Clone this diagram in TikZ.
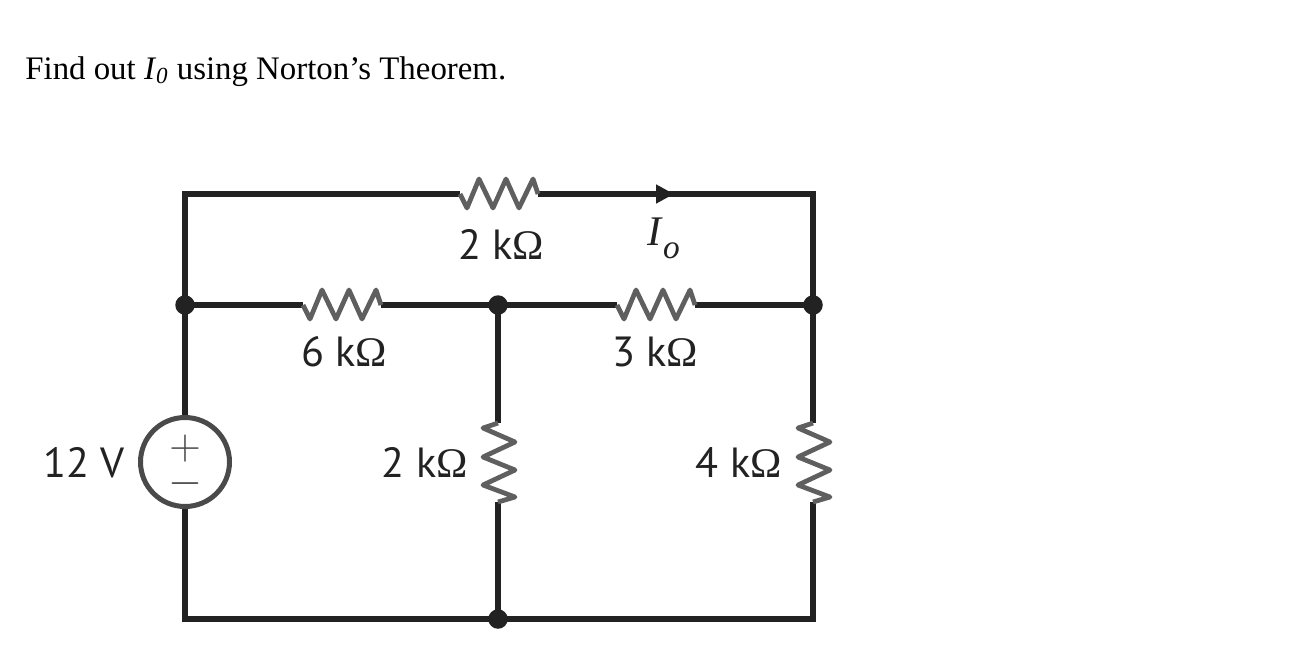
\documentclass[tikz,border=0pt]{standalone}
\usepackage{fontspec}
\setmainfont{Liberation Serif}
\newfontfamily\labelfont{PT Sans}
\usetikzlibrary{arrows.meta}

\definecolor{wirecol}{HTML}{222222}
\definecolor{rescol}{HTML}{5F5F5F}
\definecolor{srccol}{HTML}{4A4A4A}

\tikzset{
	wire/.style={line width=0.115cm,color=wirecol},
	res/.style={line width=0.095cm,color=rescol,line join=round},
	junction/.style={circle,fill=wirecol,inner sep=0pt,minimum size=0.39cm},
	source/.style={circle,draw=srccol,line width=0.1cm,inner sep=0pt,minimum size=1.78cm},
	value/.style={font=\labelfont\fontsize{24}{24}\selectfont,text=wirecol,inner sep=0pt},
	polarity/.style={font=\fontsize{25}{25}\selectfont,text=srccol,inner sep=0pt,anchor=base}
}

\newcommand{\ohm}{{\rmfamily Ω}}

% resistor zigzags, from their first end to their second
\newcommand{\hzig}[2]{\draw[res] (#1) --++(7,14) --++(12,-29) --++(14,29) --++(13,-29) --++(13,29) --++(14,-29) -- (#2);}
\newcommand{\vzig}[2]{\draw[res] (#1) --++(-15,5) --++(32,14) --++(-32,15) --++(32,13) --++(-32,15) --++(32,12) -- (#2);}

\begin{document}
\begin{tikzpicture}[x=0.02cm,y=-0.02cm]

\useasboundingbox[fill=white] (0,0) rectangle (1315,660);

\node[anchor=base west,inner sep=0pt,font=\fontsize{18.7}{20}\selectfont] (title) at (25,79)
	{Find out \textit{I}\textsubscript{\textit{0}} using Norton’s Theorem.};

\coordinate (tl) at (185,194);
\coordinate (tr) at (813,194);
\coordinate (bl) at (185,619);
\coordinate (br) at (813,619);
\coordinate (arrowtip) at (674,194);

\node[junction] (left) at (185,305) {};
\node[junction] (mid) at (498,305) {};
\node[junction] (right) at (813,305) {};
\node[junction] (bottom) at (498,619) {};
\node[source] (src) at (185,462) {};

\coordinate (rtopa) at (460,194);
\coordinate (rtopb) at (538,194);
\coordinate (rsixa) at (303,305);
\coordinate (rsixb) at (381,305);
\coordinate (rthreea) at (617,305);
\coordinate (rthreeb) at (695,305);
\coordinate (rmida) at (498,423);
\coordinate (rmidb) at (498,502);
\coordinate (rfoura) at (813,423);
\coordinate (rfourb) at (813,502);

\draw[wire] (left.center)--(tl)--(rtopa);
\draw[wire,-{Triangle[length=0.36cm,width=0.36cm]}] (rtopb)--(arrowtip);
\draw[wire] (rtopb)--(tr)--(right.center);
\draw[wire] (left.center)--(rsixa);
\draw[wire] (rsixb)--(mid.center);
\draw[wire] (mid.center)--(rthreea);
\draw[wire] (rthreeb)--(right.center);
\draw[wire] (left.center)--(src);
\draw[wire] (src)--(bl)--(bottom.center);
\draw[wire] (bottom.center)--(br)--(rfourb);
\draw[wire] (rfoura)--(right.center);
\draw[wire] (mid.center)--(rmida);
\draw[wire] (rmidb)--(bottom.center);

\hzig{rtopa}{rtopb}
\hzig{rsixa}{rsixb}
\hzig{rthreea}{rthreeb}
\vzig{rmida}{rmidb}
\vzig{rfoura}{rfourb}

\node[polarity] (plus) at (185,459) {\smash{$+$}};
\node[polarity] (minus) at (185,494) {\smash{$-$}};

\node[value] (vsrc) at (84,463) {12 V};
\node[value] (ltop) at (501,244) {2 k\ohm};
\node[value] (lsix) at (344,352) {6 k\ohm};
\node[value] (lthree) at (655,352) {3 k\ohm};
\node[value,anchor=east] (lmid) at (468,462) {2 k\ohm};
\node[value,anchor=east] (lfour) at (782,462) {4 k\ohm};

\node[anchor=base west,inner sep=0pt,font=\fontsize{24}{24}\selectfont,text=wirecol] (lcur) at (647,245)
	{\textit{I}\raisebox{-7.4pt}{\fontsize{19}{19}\selectfont\textit{o}}};

\end{tikzpicture}
\end{document}
